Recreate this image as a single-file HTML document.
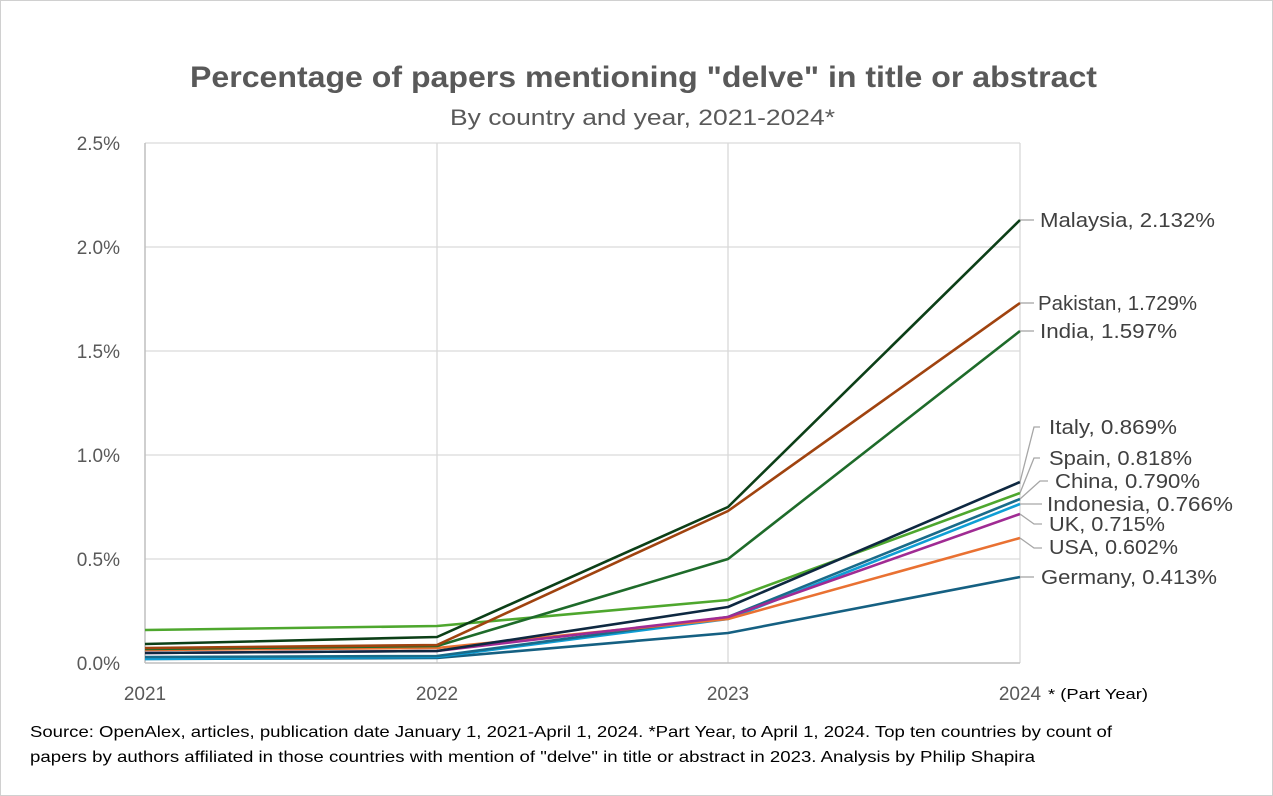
<!DOCTYPE html>
<html><head><meta charset="utf-8"><style>
body{margin:0;background:#fff}
svg{display:block;font-family:"Liberation Sans",sans-serif}
</style></head><body>
<svg width="1273" height="796" viewBox="0 0 1273 796">
<rect x="0.5" y="0.5" width="1272" height="795" fill="#fff" stroke="#d0d0d0"/>
<text x="190" y="87" font-size="30" font-weight="bold" fill="#595959" textLength="907" lengthAdjust="spacingAndGlyphs">Percentage of papers mentioning "delve" in title or abstract</text>
<text x="450" y="125" font-size="22" fill="#595959" textLength="385" lengthAdjust="spacingAndGlyphs">By country and year, 2021-2024*</text>
<g stroke="#d9d9d9" stroke-width="1.3">
<line x1="145" y1="143" x2="1020" y2="143"/><line x1="145" y1="247" x2="1020" y2="247"/>
<line x1="145" y1="351" x2="1020" y2="351"/><line x1="145" y1="455" x2="1020" y2="455"/>
<line x1="145" y1="559" x2="1020" y2="559"/>
<line x1="437" y1="143" x2="437" y2="663"/><line x1="728" y1="143" x2="728" y2="663"/><line x1="1020" y1="143" x2="1020" y2="663"/>
</g>
<line x1="145" y1="143" x2="145" y2="663" stroke="#bfbfbf" stroke-width="1.5"/>
<line x1="145" y1="663" x2="1020" y2="663" stroke="#bfbfbf" stroke-width="1.5"/>
<g font-size="19" fill="#595959" text-anchor="end">
<text x="120" y="150">2.5%</text><text x="120" y="254">2.0%</text><text x="120" y="358">1.5%</text>
<text x="120" y="462">1.0%</text><text x="120" y="566">0.5%</text><text x="120" y="670">0.0%</text>
</g>
<g font-size="19" fill="#595959" text-anchor="middle">
<text x="145" y="700">2021</text><text x="437" y="700">2022</text><text x="728" y="700">2023</text><text x="1020" y="700">2024</text>
</g>
<text x="1048" y="699" font-size="15" fill="#000" textLength="100" lengthAdjust="spacingAndGlyphs">* (Part Year)</text>
<g fill="none" stroke-width="2.6" stroke-linejoin="round">
<polyline stroke="#156082" points="145,659 437,658 728,633 1020,577"/>
<polyline stroke="#0f9ed5" points="145,659 437,657 728,619 1020,504"/>
<polyline stroke="#196b8a" points="145,657 437,656 728,617 1020,499"/>
<polyline stroke="#e97132" points="145,650 437,648 728,619 1020,538"/>
<polyline stroke="#a02b93" points="145,653 437,651 728,617 1020,514"/>
<polyline stroke="#4ea72e" points="145,630 437,626 728,600 1020,493"/>
<polyline stroke="#0e2841" points="145,653 437,651 728,607 1020,482"/>
<polyline stroke="#1e6b2a" points="145,649 437,646 728,559 1020,331"/>
<polyline stroke="#a0430f" points="145,648 437,645 728,511 1020,303"/>
<polyline stroke="#0c3f17" points="145,644 437,637 728,507 1020,220"/>
</g>
<g stroke="#a6a6a6" stroke-width="1.3" fill="none">
<polyline points="1020,220 1034,220"/>
<polyline points="1020,303 1034,303"/>
<polyline points="1020,331 1034,331"/>
<polyline points="1020,482 1034,427 1040,427"/>
<polyline points="1020,493 1034,458 1040,458"/>
<polyline points="1020,499 1040,481 1048,481"/>
<polyline points="1020,504 1042,504"/>
<polyline points="1020,514 1034,524 1042,524"/>
<polyline points="1020,538 1034,548 1042,548"/>
<polyline points="1020,577 1034,577"/>
</g>
<g font-size="20" fill="#404040">
<text x="1040" y="227" textLength="175" lengthAdjust="spacingAndGlyphs">Malaysia, 2.132%</text>
<text x="1038" y="310" textLength="159" lengthAdjust="spacingAndGlyphs">Pakistan, 1.729%</text>
<text x="1040" y="338" textLength="137" lengthAdjust="spacingAndGlyphs">India, 1.597%</text>
<text x="1049" y="434" textLength="128" lengthAdjust="spacingAndGlyphs">Italy, 0.869%</text>
<text x="1049" y="465" textLength="143" lengthAdjust="spacingAndGlyphs">Spain, 0.818%</text>
<text x="1055" y="488" textLength="145" lengthAdjust="spacingAndGlyphs">China, 0.790%</text>
<text x="1047" y="511" textLength="186" lengthAdjust="spacingAndGlyphs">Indonesia, 0.766%</text>
<text x="1049" y="531" textLength="116" lengthAdjust="spacingAndGlyphs">UK, 0.715%</text>
<text x="1049" y="554" textLength="129" lengthAdjust="spacingAndGlyphs">USA, 0.602%</text>
<text x="1041" y="584" textLength="176" lengthAdjust="spacingAndGlyphs">Germany, 0.413%</text>
</g>
<g font-size="16" fill="#000">
<text x="30" y="737" textLength="1082" lengthAdjust="spacingAndGlyphs">Source: OpenAlex, articles, publication date January 1, 2021-April 1, 2024. *Part Year, to April 1, 2024. Top ten countries by count of</text>
<text x="30" y="762" textLength="1005" lengthAdjust="spacingAndGlyphs">papers by authors affiliated in those countries with mention of "delve" in title or abstract in 2023. Analysis by Philip Shapira</text>
</g>
</svg>
</body></html>
